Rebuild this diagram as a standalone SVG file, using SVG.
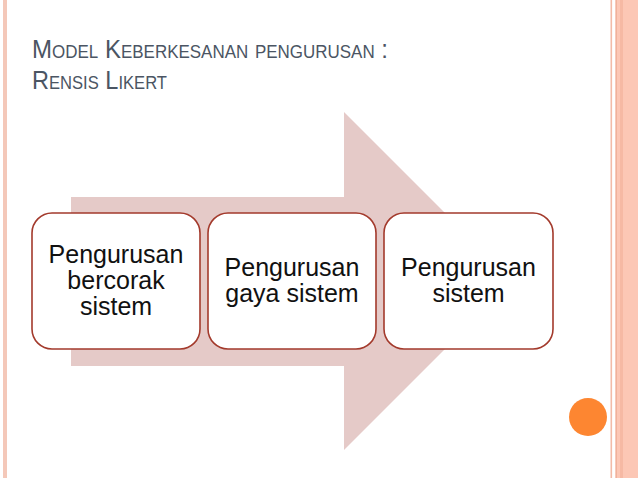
<svg xmlns="http://www.w3.org/2000/svg" width="638" height="478" viewBox="0 0 638 478">
<style>
.title{font-family:"Liberation Sans",Arial,sans-serif;fill:#4b5563;font-size:25.5px;font-variant:small-caps;}
.box{fill:#ffffff;stroke:#a33a2c;stroke-width:1.6;}
.lbl{font-family:"Liberation Sans",Arial,sans-serif;font-size:25px;fill:#111111;text-anchor:middle;}
</style>
<rect x="0" y="0" width="638" height="478" fill="#ffffff"/>
<!-- left border -->
<rect x="3" y="0" width="4" height="478" fill="#f9d8cd"/>
<rect x="3.5" y="0" width="1" height="478" fill="#f0b8a6"/>
<rect x="5.5" y="0" width="1" height="478" fill="#f0b8a6"/>
<!-- right border -->
<rect x="610.5" y="0" width="1.6" height="478" fill="#f2bba8"/>
<rect x="615.5" y="0" width="22.5" height="478" fill="#fcc7b5"/>
<rect x="615.5" y="0" width="1.5" height="478" fill="#f0b29c"/>
<rect x="620" y="0" width="3" height="478" fill="#f6b9a4"/>
<!-- title -->
<g id="title">
<text class="title" x="32" y="58" textLength="356" lengthAdjust="spacingAndGlyphs">Model Keberkesanan pengurusan :</text>
<text class="title" x="32" y="89" textLength="135" lengthAdjust="spacingAndGlyphs">Rensis Likert</text>
</g>
<!-- big arrow -->
<g id="arrow">
<polygon points="71,197 344,197 344,112 513,281 344,450 344,366 71,366" fill="#e5cac8"/>
</g>
<g id="node1">
<rect class="box" x="32" y="213" width="168" height="136" rx="20" ry="20"/>
<text class="lbl" x="116" y="263">Pengurusan</text>
<text class="lbl" x="116" y="289">bercorak</text>
<text class="lbl" x="116" y="315">sistem</text>
</g>
<g id="node2">
<rect class="box" x="208" y="213" width="168" height="136" rx="20" ry="20"/>
<text class="lbl" x="292" y="276">Pengurusan</text>
<text class="lbl" x="292" y="302">gaya sistem</text>
</g>
<g id="node3">
<rect class="box" x="384" y="213" width="169" height="136" rx="20" ry="20"/>
<text class="lbl" x="468.5" y="276">Pengurusan</text>
<text class="lbl" x="468.5" y="302">sistem</text>
</g>
<g id="connectors"></g>
<circle cx="588" cy="417" r="19" fill="#fd8631"/>
</svg>
